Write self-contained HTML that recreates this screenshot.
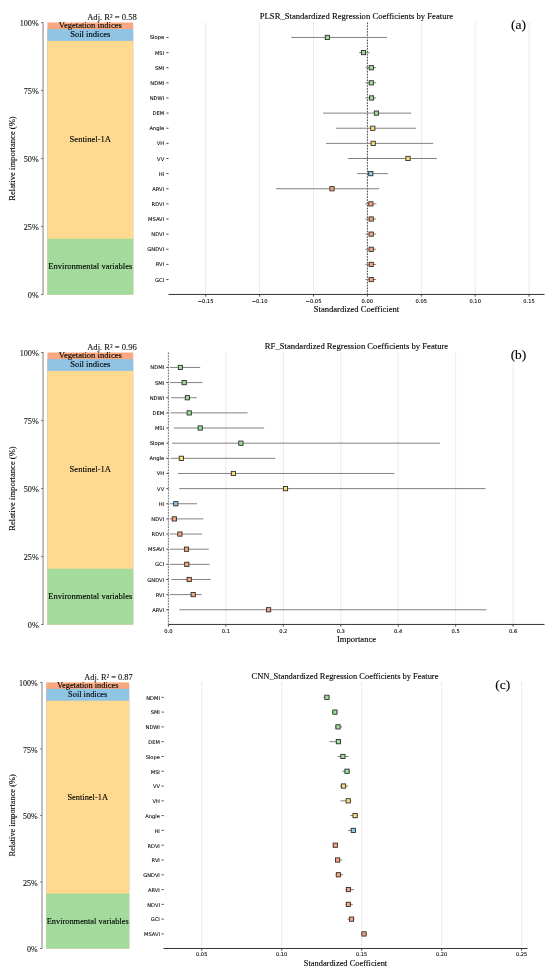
<!DOCTYPE html>
<html><head><meta charset="utf-8"><title>Figure</title>
<style>html,body{margin:0;padding:0;background:#fff}svg{display:block}text{white-space:pre}</style>
</head><body>
<svg width="550" height="972" viewBox="0 0 550 972">
<rect width="550" height="972" fill="#ffffff"/>
<rect x="47.4" y="22.5" width="85.80" height="272.00" fill="#F8A77E"/>
<rect x="47.4" y="29.1" width="85.80" height="265.40" fill="#8FC4E4"/>
<rect x="47.4" y="40.9" width="85.80" height="253.60" fill="#FED98F"/>
<rect x="47.4" y="238.8" width="85.80" height="55.70" fill="#A3DB9D"/>
<path d="M43.05 22.0V295.0" stroke="#8a8a8a" stroke-width="1.1" fill="none"/>
<path d="M41.15 22.50H43.05" stroke="#555" stroke-width="0.8"/>
<text x="38.75" y="26.14" font-family='"Liberation Serif", serif' font-size="8.2" text-anchor="end" fill="#111" stroke="#111" stroke-width="0.1">100%</text>
<path d="M41.15 90.50H43.05" stroke="#555" stroke-width="0.8"/>
<text x="38.75" y="94.14" font-family='"Liberation Serif", serif' font-size="8.2" text-anchor="end" fill="#111" stroke="#111" stroke-width="0.1">75%</text>
<path d="M41.15 158.50H43.05" stroke="#555" stroke-width="0.8"/>
<text x="38.75" y="162.14" font-family='"Liberation Serif", serif' font-size="8.2" text-anchor="end" fill="#111" stroke="#111" stroke-width="0.1">50%</text>
<path d="M41.15 226.50H43.05" stroke="#555" stroke-width="0.8"/>
<text x="38.75" y="230.14" font-family='"Liberation Serif", serif' font-size="8.2" text-anchor="end" fill="#111" stroke="#111" stroke-width="0.1">25%</text>
<path d="M41.15 294.50H43.05" stroke="#555" stroke-width="0.8"/>
<text x="38.75" y="298.14" font-family='"Liberation Serif", serif' font-size="8.2" text-anchor="end" fill="#111" stroke="#111" stroke-width="0.1">0%</text>
<text transform="translate(14.8 158.50) rotate(-90)" font-family='"Liberation Serif", serif' font-size="8.6" text-anchor="middle" fill="#000" stroke="#000" stroke-width="0.12">Relative importance (%)</text>
<text x="112.0" y="19.8" font-family='"Liberation Serif", serif' font-size="8.6" text-anchor="middle" fill="#111" stroke="#111" stroke-width="0.1">Adj. R² = 0.58</text>
<text x="90.30" y="28.38" font-family='"Liberation Serif", serif' font-size="8.6" text-anchor="middle" fill="#000" stroke="#000" stroke-width="0.12">Vegetation indices</text>
<text x="90.30" y="36.98" font-family='"Liberation Serif", serif' font-size="8.6" text-anchor="middle" fill="#000" stroke="#000" stroke-width="0.12">Soil indices</text>
<text x="90.30" y="142.43" font-family='"Liberation Serif", serif' font-size="8.6" text-anchor="middle" fill="#000" stroke="#000" stroke-width="0.12">Sentinel-1A</text>
<text x="90.30" y="269.23" font-family='"Liberation Serif", serif' font-size="8.6" text-anchor="middle" fill="#000" stroke="#000" stroke-width="0.12">Environmental variables</text>
<text x="356.5" y="19.0" font-family='"Liberation Serif", serif' font-size="8.65" text-anchor="middle" fill="#000" stroke="#000" stroke-width="0.12">PLSR_Standardized Regression Coefficients by Feature</text>
<path d="M205.70 22.5V294.45" stroke="#cecece" stroke-width="0.8" stroke-dasharray="1 1" fill="none"/>
<path d="M205.70 294.45v2.2" stroke="#222" stroke-width="0.8"/>
<text x="205.70" y="302.57" font-family='"DejaVu Sans", sans-serif' font-size="5.2" text-anchor="middle" fill="#000" stroke="#000" stroke-width="0.08">−0.15</text>
<path d="M259.60 22.5V294.45" stroke="#cecece" stroke-width="0.8" stroke-dasharray="1 1" fill="none"/>
<path d="M259.60 294.45v2.2" stroke="#222" stroke-width="0.8"/>
<text x="259.60" y="302.57" font-family='"DejaVu Sans", sans-serif' font-size="5.2" text-anchor="middle" fill="#000" stroke="#000" stroke-width="0.08">−0.10</text>
<path d="M313.50 22.5V294.45" stroke="#cecece" stroke-width="0.8" stroke-dasharray="1 1" fill="none"/>
<path d="M313.50 294.45v2.2" stroke="#222" stroke-width="0.8"/>
<text x="313.50" y="302.57" font-family='"DejaVu Sans", sans-serif' font-size="5.2" text-anchor="middle" fill="#000" stroke="#000" stroke-width="0.08">−0.05</text>
<path d="M367.40 22.5V294.45" stroke="#cecece" stroke-width="0.8" stroke-dasharray="1 1" fill="none"/>
<path d="M367.40 294.45v2.2" stroke="#222" stroke-width="0.8"/>
<text x="367.40" y="302.57" font-family='"DejaVu Sans", sans-serif' font-size="5.2" text-anchor="middle" fill="#000" stroke="#000" stroke-width="0.08">0.00</text>
<path d="M421.30 22.5V294.45" stroke="#cecece" stroke-width="0.8" stroke-dasharray="1 1" fill="none"/>
<path d="M421.30 294.45v2.2" stroke="#222" stroke-width="0.8"/>
<text x="421.30" y="302.57" font-family='"DejaVu Sans", sans-serif' font-size="5.2" text-anchor="middle" fill="#000" stroke="#000" stroke-width="0.08">0.05</text>
<path d="M475.20 22.5V294.45" stroke="#cecece" stroke-width="0.8" stroke-dasharray="1 1" fill="none"/>
<path d="M475.20 294.45v2.2" stroke="#222" stroke-width="0.8"/>
<text x="475.20" y="302.57" font-family='"DejaVu Sans", sans-serif' font-size="5.2" text-anchor="middle" fill="#000" stroke="#000" stroke-width="0.08">0.10</text>
<path d="M529.10 22.5V294.45" stroke="#cecece" stroke-width="0.8" stroke-dasharray="1 1" fill="none"/>
<path d="M529.10 294.45v2.2" stroke="#222" stroke-width="0.8"/>
<text x="529.10" y="302.57" font-family='"DejaVu Sans", sans-serif' font-size="5.2" text-anchor="middle" fill="#000" stroke="#000" stroke-width="0.08">0.15</text>
<path d="M367.40 22.5V294.45" stroke="#2a2a2a" stroke-width="0.85" stroke-dasharray="1.65 1.2" fill="none"/>
<path d="M291.30 37.45H387.00" stroke="#828282" stroke-width="1" fill="none"/>
<path d="M359.10 52.58H369.50" stroke="#828282" stroke-width="1" fill="none"/>
<path d="M365.40 67.71H376.00" stroke="#828282" stroke-width="1" fill="none"/>
<path d="M365.40 82.84H376.00" stroke="#828282" stroke-width="1" fill="none"/>
<path d="M365.40 97.97H376.00" stroke="#828282" stroke-width="1" fill="none"/>
<path d="M323.20 113.10H411.20" stroke="#828282" stroke-width="1" fill="none"/>
<path d="M336.00 128.23H416.00" stroke="#828282" stroke-width="1" fill="none"/>
<path d="M326.00 143.36H433.20" stroke="#828282" stroke-width="1" fill="none"/>
<path d="M348.00 158.49H436.80" stroke="#828282" stroke-width="1" fill="none"/>
<path d="M357.20 173.62H388.00" stroke="#828282" stroke-width="1" fill="none"/>
<path d="M276.00 188.75H379.20" stroke="#828282" stroke-width="1" fill="none"/>
<path d="M365.30 203.88H376.40" stroke="#828282" stroke-width="1" fill="none"/>
<path d="M365.40 219.01H376.20" stroke="#828282" stroke-width="1" fill="none"/>
<path d="M365.40 234.14H376.20" stroke="#828282" stroke-width="1" fill="none"/>
<path d="M365.40 249.27H376.20" stroke="#828282" stroke-width="1" fill="none"/>
<path d="M365.40 264.40H376.20" stroke="#828282" stroke-width="1" fill="none"/>
<path d="M365.40 279.53H376.20" stroke="#828282" stroke-width="1" fill="none"/>
<rect x="325.27" y="35.33" width="4.25" height="4.25" fill="#99E095" stroke="#262626" stroke-width="0.85"/>
<path d="M166.3 37.45H168.5" stroke="#222" stroke-width="0.8"/>
<text x="164.2" y="39.47" font-family='"DejaVu Sans", sans-serif' font-size="5.2" text-anchor="end" fill="#000" stroke="#000" stroke-width="0.08">Slope</text>
<rect x="361.38" y="50.46" width="4.25" height="4.25" fill="#99E095" stroke="#262626" stroke-width="0.85"/>
<path d="M166.3 52.58H168.5" stroke="#222" stroke-width="0.8"/>
<text x="164.2" y="54.60" font-family='"DejaVu Sans", sans-serif' font-size="5.2" text-anchor="end" fill="#000" stroke="#000" stroke-width="0.08">MSI</text>
<rect x="369.18" y="65.59" width="4.25" height="4.25" fill="#99E095" stroke="#262626" stroke-width="0.85"/>
<path d="M166.3 67.71H168.5" stroke="#222" stroke-width="0.8"/>
<text x="164.2" y="69.73" font-family='"DejaVu Sans", sans-serif' font-size="5.2" text-anchor="end" fill="#000" stroke="#000" stroke-width="0.08">SMI</text>
<rect x="369.18" y="80.72" width="4.25" height="4.25" fill="#99E095" stroke="#262626" stroke-width="0.85"/>
<path d="M166.3 82.84H168.5" stroke="#222" stroke-width="0.8"/>
<text x="164.2" y="84.86" font-family='"DejaVu Sans", sans-serif' font-size="5.2" text-anchor="end" fill="#000" stroke="#000" stroke-width="0.08">NDMI</text>
<rect x="369.38" y="95.84" width="4.25" height="4.25" fill="#99E095" stroke="#262626" stroke-width="0.85"/>
<path d="M166.3 97.97H168.5" stroke="#222" stroke-width="0.8"/>
<text x="164.2" y="99.99" font-family='"DejaVu Sans", sans-serif' font-size="5.2" text-anchor="end" fill="#000" stroke="#000" stroke-width="0.08">NDWI</text>
<rect x="374.27" y="110.98" width="4.25" height="4.25" fill="#99E095" stroke="#262626" stroke-width="0.85"/>
<path d="M166.3 113.10H168.5" stroke="#222" stroke-width="0.8"/>
<text x="164.2" y="115.12" font-family='"DejaVu Sans", sans-serif' font-size="5.2" text-anchor="end" fill="#000" stroke="#000" stroke-width="0.08">DEM</text>
<rect x="370.68" y="126.11" width="4.25" height="4.25" fill="#FBDD7A" stroke="#262626" stroke-width="0.85"/>
<path d="M166.3 128.23H168.5" stroke="#222" stroke-width="0.8"/>
<text x="164.2" y="130.25" font-family='"DejaVu Sans", sans-serif' font-size="5.2" text-anchor="end" fill="#000" stroke="#000" stroke-width="0.08">Angle</text>
<rect x="371.07" y="141.24" width="4.25" height="4.25" fill="#FBDD7A" stroke="#262626" stroke-width="0.85"/>
<path d="M166.3 143.36H168.5" stroke="#222" stroke-width="0.8"/>
<text x="164.2" y="145.38" font-family='"DejaVu Sans", sans-serif' font-size="5.2" text-anchor="end" fill="#000" stroke="#000" stroke-width="0.08">VH</text>
<rect x="405.88" y="156.37" width="4.25" height="4.25" fill="#FBDD7A" stroke="#262626" stroke-width="0.85"/>
<path d="M166.3 158.49H168.5" stroke="#222" stroke-width="0.8"/>
<text x="164.2" y="160.51" font-family='"DejaVu Sans", sans-serif' font-size="5.2" text-anchor="end" fill="#000" stroke="#000" stroke-width="0.08">VV</text>
<rect x="368.68" y="171.50" width="4.25" height="4.25" fill="#8CC8EC" stroke="#262626" stroke-width="0.85"/>
<path d="M166.3 173.62H168.5" stroke="#222" stroke-width="0.8"/>
<text x="164.2" y="175.64" font-family='"DejaVu Sans", sans-serif' font-size="5.2" text-anchor="end" fill="#000" stroke="#000" stroke-width="0.08">HI</text>
<rect x="329.88" y="186.62" width="4.25" height="4.25" fill="#FAA27E" stroke="#262626" stroke-width="0.85"/>
<path d="M166.3 188.75H168.5" stroke="#222" stroke-width="0.8"/>
<text x="164.2" y="190.77" font-family='"DejaVu Sans", sans-serif' font-size="5.2" text-anchor="end" fill="#000" stroke="#000" stroke-width="0.08">ARVI</text>
<rect x="368.77" y="201.75" width="4.25" height="4.25" fill="#FAA27E" stroke="#262626" stroke-width="0.85"/>
<path d="M166.3 203.88H168.5" stroke="#222" stroke-width="0.8"/>
<text x="164.2" y="205.90" font-family='"DejaVu Sans", sans-serif' font-size="5.2" text-anchor="end" fill="#000" stroke="#000" stroke-width="0.08">RDVI</text>
<rect x="369.07" y="216.88" width="4.25" height="4.25" fill="#FAA27E" stroke="#262626" stroke-width="0.85"/>
<path d="M166.3 219.01H168.5" stroke="#222" stroke-width="0.8"/>
<text x="164.2" y="221.03" font-family='"DejaVu Sans", sans-serif' font-size="5.2" text-anchor="end" fill="#000" stroke="#000" stroke-width="0.08">MSAVI</text>
<rect x="369.07" y="232.01" width="4.25" height="4.25" fill="#FAA27E" stroke="#262626" stroke-width="0.85"/>
<path d="M166.3 234.14H168.5" stroke="#222" stroke-width="0.8"/>
<text x="164.2" y="236.16" font-family='"DejaVu Sans", sans-serif' font-size="5.2" text-anchor="end" fill="#000" stroke="#000" stroke-width="0.08">NDVI</text>
<rect x="369.07" y="247.15" width="4.25" height="4.25" fill="#FAA27E" stroke="#262626" stroke-width="0.85"/>
<path d="M166.3 249.27H168.5" stroke="#222" stroke-width="0.8"/>
<text x="164.2" y="251.29" font-family='"DejaVu Sans", sans-serif' font-size="5.2" text-anchor="end" fill="#000" stroke="#000" stroke-width="0.08">GNDVI</text>
<rect x="369.07" y="262.28" width="4.25" height="4.25" fill="#FAA27E" stroke="#262626" stroke-width="0.85"/>
<path d="M166.3 264.40H168.5" stroke="#222" stroke-width="0.8"/>
<text x="164.2" y="266.42" font-family='"DejaVu Sans", sans-serif' font-size="5.2" text-anchor="end" fill="#000" stroke="#000" stroke-width="0.08">RVI</text>
<rect x="369.07" y="277.41" width="4.25" height="4.25" fill="#FAA27E" stroke="#262626" stroke-width="0.85"/>
<path d="M166.3 279.53H168.5" stroke="#222" stroke-width="0.8"/>
<text x="164.2" y="281.55" font-family='"DejaVu Sans", sans-serif' font-size="5.2" text-anchor="end" fill="#000" stroke="#000" stroke-width="0.08">GCI</text>
<path d="M168.5 294.45H544.5" stroke="#333" stroke-width="1" fill="none"/>
<text x="356.5" y="312.2" font-family='"Liberation Serif", serif' font-size="8.6" text-anchor="middle" fill="#000" stroke="#000" stroke-width="0.12">Standardized Coefficient</text>
<text x="518.5" y="28.8" font-family='"Liberation Serif", serif' font-size="13.5" text-anchor="middle" fill="#000" stroke="#000" stroke-width="0.12">(a)</text>
<rect x="47.4" y="352.5" width="85.80" height="272.00" fill="#F8A77E"/>
<rect x="47.4" y="359.1" width="85.80" height="265.40" fill="#8FC4E4"/>
<rect x="47.4" y="370.9" width="85.80" height="253.60" fill="#FED98F"/>
<rect x="47.4" y="568.8" width="85.80" height="55.70" fill="#A3DB9D"/>
<path d="M43.05 352.0V625.0" stroke="#8a8a8a" stroke-width="1.1" fill="none"/>
<path d="M41.15 352.50H43.05" stroke="#555" stroke-width="0.8"/>
<text x="38.75" y="356.14" font-family='"Liberation Serif", serif' font-size="8.2" text-anchor="end" fill="#111" stroke="#111" stroke-width="0.1">100%</text>
<path d="M41.15 420.50H43.05" stroke="#555" stroke-width="0.8"/>
<text x="38.75" y="424.14" font-family='"Liberation Serif", serif' font-size="8.2" text-anchor="end" fill="#111" stroke="#111" stroke-width="0.1">75%</text>
<path d="M41.15 488.50H43.05" stroke="#555" stroke-width="0.8"/>
<text x="38.75" y="492.14" font-family='"Liberation Serif", serif' font-size="8.2" text-anchor="end" fill="#111" stroke="#111" stroke-width="0.1">50%</text>
<path d="M41.15 556.50H43.05" stroke="#555" stroke-width="0.8"/>
<text x="38.75" y="560.14" font-family='"Liberation Serif", serif' font-size="8.2" text-anchor="end" fill="#111" stroke="#111" stroke-width="0.1">25%</text>
<path d="M41.15 624.50H43.05" stroke="#555" stroke-width="0.8"/>
<text x="38.75" y="628.14" font-family='"Liberation Serif", serif' font-size="8.2" text-anchor="end" fill="#111" stroke="#111" stroke-width="0.1">0%</text>
<text transform="translate(14.8 488.50) rotate(-90)" font-family='"Liberation Serif", serif' font-size="8.6" text-anchor="middle" fill="#000" stroke="#000" stroke-width="0.12">Relative importance (%)</text>
<text x="112.0" y="349.8" font-family='"Liberation Serif", serif' font-size="8.6" text-anchor="middle" fill="#111" stroke="#111" stroke-width="0.1">Adj. R² = 0.96</text>
<text x="90.30" y="358.38" font-family='"Liberation Serif", serif' font-size="8.6" text-anchor="middle" fill="#000" stroke="#000" stroke-width="0.12">Vegetation indices</text>
<text x="90.30" y="366.98" font-family='"Liberation Serif", serif' font-size="8.6" text-anchor="middle" fill="#000" stroke="#000" stroke-width="0.12">Soil indices</text>
<text x="90.30" y="472.43" font-family='"Liberation Serif", serif' font-size="8.6" text-anchor="middle" fill="#000" stroke="#000" stroke-width="0.12">Sentinel-1A</text>
<text x="90.30" y="599.23" font-family='"Liberation Serif", serif' font-size="8.6" text-anchor="middle" fill="#000" stroke="#000" stroke-width="0.12">Environmental variables</text>
<text x="356.5" y="349.0" font-family='"Liberation Serif", serif' font-size="8.65" text-anchor="middle" fill="#000" stroke="#000" stroke-width="0.12">RF_Standardized Regression Coefficients by Feature</text>
<path d="M168.40 352.5V624.45" stroke="#cecece" stroke-width="0.8" stroke-dasharray="1 1" fill="none"/>
<path d="M168.40 624.45v2.2" stroke="#222" stroke-width="0.8"/>
<text x="168.40" y="632.57" font-family='"DejaVu Sans", sans-serif' font-size="5.2" text-anchor="middle" fill="#000" stroke="#000" stroke-width="0.08">0.0</text>
<path d="M225.85 352.5V624.45" stroke="#cecece" stroke-width="0.8" stroke-dasharray="1 1" fill="none"/>
<path d="M225.85 624.45v2.2" stroke="#222" stroke-width="0.8"/>
<text x="225.85" y="632.57" font-family='"DejaVu Sans", sans-serif' font-size="5.2" text-anchor="middle" fill="#000" stroke="#000" stroke-width="0.08">0.1</text>
<path d="M283.30 352.5V624.45" stroke="#cecece" stroke-width="0.8" stroke-dasharray="1 1" fill="none"/>
<path d="M283.30 624.45v2.2" stroke="#222" stroke-width="0.8"/>
<text x="283.30" y="632.57" font-family='"DejaVu Sans", sans-serif' font-size="5.2" text-anchor="middle" fill="#000" stroke="#000" stroke-width="0.08">0.2</text>
<path d="M340.75 352.5V624.45" stroke="#cecece" stroke-width="0.8" stroke-dasharray="1 1" fill="none"/>
<path d="M340.75 624.45v2.2" stroke="#222" stroke-width="0.8"/>
<text x="340.75" y="632.57" font-family='"DejaVu Sans", sans-serif' font-size="5.2" text-anchor="middle" fill="#000" stroke="#000" stroke-width="0.08">0.3</text>
<path d="M398.20 352.5V624.45" stroke="#cecece" stroke-width="0.8" stroke-dasharray="1 1" fill="none"/>
<path d="M398.20 624.45v2.2" stroke="#222" stroke-width="0.8"/>
<text x="398.20" y="632.57" font-family='"DejaVu Sans", sans-serif' font-size="5.2" text-anchor="middle" fill="#000" stroke="#000" stroke-width="0.08">0.4</text>
<path d="M455.65 352.5V624.45" stroke="#cecece" stroke-width="0.8" stroke-dasharray="1 1" fill="none"/>
<path d="M455.65 624.45v2.2" stroke="#222" stroke-width="0.8"/>
<text x="455.65" y="632.57" font-family='"DejaVu Sans", sans-serif' font-size="5.2" text-anchor="middle" fill="#000" stroke="#000" stroke-width="0.08">0.5</text>
<path d="M513.10 352.5V624.45" stroke="#cecece" stroke-width="0.8" stroke-dasharray="1 1" fill="none"/>
<path d="M513.10 624.45v2.2" stroke="#222" stroke-width="0.8"/>
<text x="513.10" y="632.57" font-family='"DejaVu Sans", sans-serif' font-size="5.2" text-anchor="middle" fill="#000" stroke="#000" stroke-width="0.08">0.6</text>
<path d="M168.40 352.5V624.45" stroke="#4a4a4a" stroke-width="0.75" stroke-dasharray="1.65 1.2" fill="none"/>
<path d="M170.00 367.45H200.20" stroke="#828282" stroke-width="1" fill="none"/>
<path d="M170.00 382.59H202.50" stroke="#828282" stroke-width="1" fill="none"/>
<path d="M171.10 397.74H196.70" stroke="#828282" stroke-width="1" fill="none"/>
<path d="M170.50 412.88H247.60" stroke="#828282" stroke-width="1" fill="none"/>
<path d="M174.00 428.03H264.20" stroke="#828282" stroke-width="1" fill="none"/>
<path d="M172.00 443.17H440.00" stroke="#828282" stroke-width="1" fill="none"/>
<path d="M170.50 458.32H275.30" stroke="#828282" stroke-width="1" fill="none"/>
<path d="M177.80 473.46H394.50" stroke="#828282" stroke-width="1" fill="none"/>
<path d="M179.30 488.61H485.50" stroke="#828282" stroke-width="1" fill="none"/>
<path d="M169.80 503.75H197.00" stroke="#828282" stroke-width="1" fill="none"/>
<path d="M169.60 518.90H203.40" stroke="#828282" stroke-width="1" fill="none"/>
<path d="M170.00 534.04H202.00" stroke="#828282" stroke-width="1" fill="none"/>
<path d="M170.00 549.19H208.70" stroke="#828282" stroke-width="1" fill="none"/>
<path d="M170.00 564.34H209.50" stroke="#828282" stroke-width="1" fill="none"/>
<path d="M171.40 579.48H210.70" stroke="#828282" stroke-width="1" fill="none"/>
<path d="M170.00 594.62H201.70" stroke="#828282" stroke-width="1" fill="none"/>
<path d="M179.30 609.77H486.50" stroke="#828282" stroke-width="1" fill="none"/>
<rect x="178.28" y="365.32" width="4.25" height="4.25" fill="#99E095" stroke="#262626" stroke-width="0.85"/>
<path d="M166.3 367.45H168.5" stroke="#222" stroke-width="0.8"/>
<text x="164.2" y="369.47" font-family='"DejaVu Sans", sans-serif' font-size="5.2" text-anchor="end" fill="#000" stroke="#000" stroke-width="0.08">NDMI</text>
<rect x="182.07" y="380.47" width="4.25" height="4.25" fill="#99E095" stroke="#262626" stroke-width="0.85"/>
<path d="M166.3 382.59H168.5" stroke="#222" stroke-width="0.8"/>
<text x="164.2" y="384.62" font-family='"DejaVu Sans", sans-serif' font-size="5.2" text-anchor="end" fill="#000" stroke="#000" stroke-width="0.08">SMI</text>
<rect x="185.28" y="395.62" width="4.25" height="4.25" fill="#99E095" stroke="#262626" stroke-width="0.85"/>
<path d="M166.3 397.74H168.5" stroke="#222" stroke-width="0.8"/>
<text x="164.2" y="399.76" font-family='"DejaVu Sans", sans-serif' font-size="5.2" text-anchor="end" fill="#000" stroke="#000" stroke-width="0.08">NDWI</text>
<rect x="187.07" y="410.76" width="4.25" height="4.25" fill="#99E095" stroke="#262626" stroke-width="0.85"/>
<path d="M166.3 412.88H168.5" stroke="#222" stroke-width="0.8"/>
<text x="164.2" y="414.91" font-family='"DejaVu Sans", sans-serif' font-size="5.2" text-anchor="end" fill="#000" stroke="#000" stroke-width="0.08">DEM</text>
<rect x="198.07" y="425.90" width="4.25" height="4.25" fill="#99E095" stroke="#262626" stroke-width="0.85"/>
<path d="M166.3 428.03H168.5" stroke="#222" stroke-width="0.8"/>
<text x="164.2" y="430.05" font-family='"DejaVu Sans", sans-serif' font-size="5.2" text-anchor="end" fill="#000" stroke="#000" stroke-width="0.08">MSI</text>
<rect x="238.78" y="441.05" width="4.25" height="4.25" fill="#99E095" stroke="#262626" stroke-width="0.85"/>
<path d="M166.3 443.17H168.5" stroke="#222" stroke-width="0.8"/>
<text x="164.2" y="445.20" font-family='"DejaVu Sans", sans-serif' font-size="5.2" text-anchor="end" fill="#000" stroke="#000" stroke-width="0.08">Slope</text>
<rect x="179.18" y="456.19" width="4.25" height="4.25" fill="#FBDD7A" stroke="#262626" stroke-width="0.85"/>
<path d="M166.3 458.32H168.5" stroke="#222" stroke-width="0.8"/>
<text x="164.2" y="460.34" font-family='"DejaVu Sans", sans-serif' font-size="5.2" text-anchor="end" fill="#000" stroke="#000" stroke-width="0.08">Angle</text>
<rect x="231.28" y="471.34" width="4.25" height="4.25" fill="#FBDD7A" stroke="#262626" stroke-width="0.85"/>
<path d="M166.3 473.46H168.5" stroke="#222" stroke-width="0.8"/>
<text x="164.2" y="475.49" font-family='"DejaVu Sans", sans-serif' font-size="5.2" text-anchor="end" fill="#000" stroke="#000" stroke-width="0.08">VH</text>
<rect x="283.38" y="486.49" width="4.25" height="4.25" fill="#FBDD7A" stroke="#262626" stroke-width="0.85"/>
<path d="M166.3 488.61H168.5" stroke="#222" stroke-width="0.8"/>
<text x="164.2" y="490.63" font-family='"DejaVu Sans", sans-serif' font-size="5.2" text-anchor="end" fill="#000" stroke="#000" stroke-width="0.08">VV</text>
<rect x="173.68" y="501.63" width="4.25" height="4.25" fill="#8CC8EC" stroke="#262626" stroke-width="0.85"/>
<path d="M166.3 503.75H168.5" stroke="#222" stroke-width="0.8"/>
<text x="164.2" y="505.78" font-family='"DejaVu Sans", sans-serif' font-size="5.2" text-anchor="end" fill="#000" stroke="#000" stroke-width="0.08">HI</text>
<rect x="172.18" y="516.77" width="4.25" height="4.25" fill="#FAA27E" stroke="#262626" stroke-width="0.85"/>
<path d="M166.3 518.90H168.5" stroke="#222" stroke-width="0.8"/>
<text x="164.2" y="520.92" font-family='"DejaVu Sans", sans-serif' font-size="5.2" text-anchor="end" fill="#000" stroke="#000" stroke-width="0.08">NDVI</text>
<rect x="177.78" y="531.92" width="4.25" height="4.25" fill="#FAA27E" stroke="#262626" stroke-width="0.85"/>
<path d="M166.3 534.04H168.5" stroke="#222" stroke-width="0.8"/>
<text x="164.2" y="536.07" font-family='"DejaVu Sans", sans-serif' font-size="5.2" text-anchor="end" fill="#000" stroke="#000" stroke-width="0.08">RDVI</text>
<rect x="184.38" y="547.07" width="4.25" height="4.25" fill="#FAA27E" stroke="#262626" stroke-width="0.85"/>
<path d="M166.3 549.19H168.5" stroke="#222" stroke-width="0.8"/>
<text x="164.2" y="551.21" font-family='"DejaVu Sans", sans-serif' font-size="5.2" text-anchor="end" fill="#000" stroke="#000" stroke-width="0.08">MSAVI</text>
<rect x="184.68" y="562.21" width="4.25" height="4.25" fill="#FAA27E" stroke="#262626" stroke-width="0.85"/>
<path d="M166.3 564.34H168.5" stroke="#222" stroke-width="0.8"/>
<text x="164.2" y="566.36" font-family='"DejaVu Sans", sans-serif' font-size="5.2" text-anchor="end" fill="#000" stroke="#000" stroke-width="0.08">GCI</text>
<rect x="187.07" y="577.36" width="4.25" height="4.25" fill="#FAA27E" stroke="#262626" stroke-width="0.85"/>
<path d="M166.3 579.48H168.5" stroke="#222" stroke-width="0.8"/>
<text x="164.2" y="581.50" font-family='"DejaVu Sans", sans-serif' font-size="5.2" text-anchor="end" fill="#000" stroke="#000" stroke-width="0.08">GNDVI</text>
<rect x="191.07" y="592.50" width="4.25" height="4.25" fill="#FAA27E" stroke="#262626" stroke-width="0.85"/>
<path d="M166.3 594.62H168.5" stroke="#222" stroke-width="0.8"/>
<text x="164.2" y="596.65" font-family='"DejaVu Sans", sans-serif' font-size="5.2" text-anchor="end" fill="#000" stroke="#000" stroke-width="0.08">RVI</text>
<rect x="266.48" y="607.64" width="4.25" height="4.25" fill="#FAA27E" stroke="#262626" stroke-width="0.85"/>
<path d="M166.3 609.77H168.5" stroke="#222" stroke-width="0.8"/>
<text x="164.2" y="611.79" font-family='"DejaVu Sans", sans-serif' font-size="5.2" text-anchor="end" fill="#000" stroke="#000" stroke-width="0.08">ARVI</text>
<path d="M168.5 624.45H544.5" stroke="#333" stroke-width="1" fill="none"/>
<text x="356.5" y="642.0" font-family='"Liberation Serif", serif' font-size="8.6" text-anchor="middle" fill="#000" stroke="#000" stroke-width="0.12">Importance</text>
<text x="518.5" y="358.8" font-family='"Liberation Serif", serif' font-size="13.5" text-anchor="middle" fill="#000" stroke="#000" stroke-width="0.12">(b)</text>
<rect x="46.2" y="682.4" width="83.00" height="266.10" fill="#F8A77E"/>
<rect x="46.2" y="688.8" width="83.00" height="259.70" fill="#8FC4E4"/>
<rect x="46.2" y="700.7" width="83.00" height="247.80" fill="#FED98F"/>
<rect x="46.2" y="893.6" width="83.00" height="54.90" fill="#A3DB9D"/>
<path d="M42.0 681.9V949.0" stroke="#8a8a8a" stroke-width="1.1" fill="none"/>
<path d="M40.1 682.40H42.0" stroke="#555" stroke-width="0.8"/>
<text x="37.70" y="685.97" font-family='"Liberation Serif", serif' font-size="8.0" text-anchor="end" fill="#111" stroke="#111" stroke-width="0.1">100%</text>
<path d="M40.1 748.92H42.0" stroke="#555" stroke-width="0.8"/>
<text x="37.70" y="752.50" font-family='"Liberation Serif", serif' font-size="8.0" text-anchor="end" fill="#111" stroke="#111" stroke-width="0.1">75%</text>
<path d="M40.1 815.45H42.0" stroke="#555" stroke-width="0.8"/>
<text x="37.70" y="819.02" font-family='"Liberation Serif", serif' font-size="8.0" text-anchor="end" fill="#111" stroke="#111" stroke-width="0.1">50%</text>
<path d="M40.1 881.98H42.0" stroke="#555" stroke-width="0.8"/>
<text x="37.70" y="885.55" font-family='"Liberation Serif", serif' font-size="8.0" text-anchor="end" fill="#111" stroke="#111" stroke-width="0.1">25%</text>
<path d="M40.1 948.50H42.0" stroke="#555" stroke-width="0.8"/>
<text x="37.70" y="952.07" font-family='"Liberation Serif", serif' font-size="8.0" text-anchor="end" fill="#111" stroke="#111" stroke-width="0.1">0%</text>
<text transform="translate(14.5 815.45) rotate(-90)" font-family='"Liberation Serif", serif' font-size="8.4" text-anchor="middle" fill="#000" stroke="#000" stroke-width="0.12">Relative importance (%)</text>
<text x="108.5" y="679.8" font-family='"Liberation Serif", serif' font-size="8.4" text-anchor="middle" fill="#111" stroke="#111" stroke-width="0.1">Adj. R² = 0.87</text>
<text x="87.70" y="688.12" font-family='"Liberation Serif", serif' font-size="8.4" text-anchor="middle" fill="#000" stroke="#000" stroke-width="0.12">Vegetation indices</text>
<text x="87.70" y="696.67" font-family='"Liberation Serif", serif' font-size="8.4" text-anchor="middle" fill="#000" stroke="#000" stroke-width="0.12">Soil indices</text>
<text x="87.70" y="799.67" font-family='"Liberation Serif", serif' font-size="8.4" text-anchor="middle" fill="#000" stroke="#000" stroke-width="0.12">Sentinel-1A</text>
<text x="87.70" y="923.57" font-family='"Liberation Serif", serif' font-size="8.4" text-anchor="middle" fill="#000" stroke="#000" stroke-width="0.12">Environmental variables</text>
<text x="345.0" y="679.25" font-family='"Liberation Serif", serif' font-size="8.45" text-anchor="middle" fill="#000" stroke="#000" stroke-width="0.12">CNN_Standardized Regression Coefficients by Feature</text>
<path d="M201.71 682V948.5" stroke="#cecece" stroke-width="0.8" stroke-dasharray="1 1" fill="none"/>
<path d="M201.71 948.5v2.2" stroke="#222" stroke-width="0.8"/>
<text x="201.71" y="956.44" font-family='"DejaVu Sans", sans-serif' font-size="5.12" text-anchor="middle" fill="#000" stroke="#000" stroke-width="0.08">0.05</text>
<path d="M281.68 682V948.5" stroke="#cecece" stroke-width="0.8" stroke-dasharray="1 1" fill="none"/>
<path d="M281.68 948.5v2.2" stroke="#222" stroke-width="0.8"/>
<text x="281.68" y="956.44" font-family='"DejaVu Sans", sans-serif' font-size="5.12" text-anchor="middle" fill="#000" stroke="#000" stroke-width="0.08">0.10</text>
<path d="M361.65 682V948.5" stroke="#cecece" stroke-width="0.8" stroke-dasharray="1 1" fill="none"/>
<path d="M361.65 948.5v2.2" stroke="#222" stroke-width="0.8"/>
<text x="361.65" y="956.44" font-family='"DejaVu Sans", sans-serif' font-size="5.12" text-anchor="middle" fill="#000" stroke="#000" stroke-width="0.08">0.15</text>
<path d="M441.62 682V948.5" stroke="#cecece" stroke-width="0.8" stroke-dasharray="1 1" fill="none"/>
<path d="M441.62 948.5v2.2" stroke="#222" stroke-width="0.8"/>
<text x="441.62" y="956.44" font-family='"DejaVu Sans", sans-serif' font-size="5.12" text-anchor="middle" fill="#000" stroke="#000" stroke-width="0.08">0.20</text>
<path d="M521.59 682V948.5" stroke="#cecece" stroke-width="0.8" stroke-dasharray="1 1" fill="none"/>
<path d="M521.59 948.5v2.2" stroke="#222" stroke-width="0.8"/>
<text x="521.59" y="956.44" font-family='"DejaVu Sans", sans-serif' font-size="5.12" text-anchor="middle" fill="#000" stroke="#000" stroke-width="0.08">0.25</text>
<path d="M323.30 697.30H329.80" stroke="#828282" stroke-width="1" fill="none"/>
<path d="M332.00 712.09H338.00" stroke="#828282" stroke-width="1" fill="none"/>
<path d="M335.00 726.88H342.20" stroke="#828282" stroke-width="1" fill="none"/>
<path d="M329.50 741.67H341.20" stroke="#828282" stroke-width="1" fill="none"/>
<path d="M337.60 756.46H348.50" stroke="#828282" stroke-width="1" fill="none"/>
<path d="M342.20 771.25H350.00" stroke="#828282" stroke-width="1" fill="none"/>
<path d="M340.00 786.04H348.20" stroke="#828282" stroke-width="1" fill="none"/>
<path d="M340.40 800.83H351.30" stroke="#828282" stroke-width="1" fill="none"/>
<path d="M350.20 815.62H358.00" stroke="#828282" stroke-width="1" fill="none"/>
<path d="M348.00 830.41H356.00" stroke="#828282" stroke-width="1" fill="none"/>
<path d="M332.50 845.20H338.00" stroke="#828282" stroke-width="1" fill="none"/>
<path d="M335.00 859.99H342.20" stroke="#828282" stroke-width="1" fill="none"/>
<path d="M335.50 874.78H343.10" stroke="#828282" stroke-width="1" fill="none"/>
<path d="M345.50 889.57H354.00" stroke="#828282" stroke-width="1" fill="none"/>
<path d="M345.50 904.36H352.90" stroke="#828282" stroke-width="1" fill="none"/>
<path d="M347.50 919.15H354.50" stroke="#828282" stroke-width="1" fill="none"/>
<path d="M361.00 933.94H367.00" stroke="#828282" stroke-width="1" fill="none"/>
<rect x="324.77" y="695.17" width="4.25" height="4.25" fill="#99E095" stroke="#262626" stroke-width="0.85"/>
<path d="M161.6 697.30H163.8" stroke="#222" stroke-width="0.8"/>
<text x="159.9" y="699.64" font-family='"DejaVu Sans", sans-serif' font-size="5.12" text-anchor="end" fill="#000" stroke="#000" stroke-width="0.08">NDMI</text>
<rect x="332.77" y="709.96" width="4.25" height="4.25" fill="#99E095" stroke="#262626" stroke-width="0.85"/>
<path d="M161.6 712.09H163.8" stroke="#222" stroke-width="0.8"/>
<text x="159.9" y="714.43" font-family='"DejaVu Sans", sans-serif' font-size="5.12" text-anchor="end" fill="#000" stroke="#000" stroke-width="0.08">SMI</text>
<rect x="335.88" y="724.75" width="4.25" height="4.25" fill="#99E095" stroke="#262626" stroke-width="0.85"/>
<path d="M161.6 726.88H163.8" stroke="#222" stroke-width="0.8"/>
<text x="159.9" y="729.22" font-family='"DejaVu Sans", sans-serif' font-size="5.12" text-anchor="end" fill="#000" stroke="#000" stroke-width="0.08">NDWI</text>
<rect x="336.27" y="739.54" width="4.25" height="4.25" fill="#99E095" stroke="#262626" stroke-width="0.85"/>
<path d="M161.6 741.67H163.8" stroke="#222" stroke-width="0.8"/>
<text x="159.9" y="744.01" font-family='"DejaVu Sans", sans-serif' font-size="5.12" text-anchor="end" fill="#000" stroke="#000" stroke-width="0.08">DEM</text>
<rect x="340.77" y="754.33" width="4.25" height="4.25" fill="#99E095" stroke="#262626" stroke-width="0.85"/>
<path d="M161.6 756.46H163.8" stroke="#222" stroke-width="0.8"/>
<text x="159.9" y="758.80" font-family='"DejaVu Sans", sans-serif' font-size="5.12" text-anchor="end" fill="#000" stroke="#000" stroke-width="0.08">Slope</text>
<rect x="344.88" y="769.12" width="4.25" height="4.25" fill="#99E095" stroke="#262626" stroke-width="0.85"/>
<path d="M161.6 771.25H163.8" stroke="#222" stroke-width="0.8"/>
<text x="159.9" y="773.59" font-family='"DejaVu Sans", sans-serif' font-size="5.12" text-anchor="end" fill="#000" stroke="#000" stroke-width="0.08">MSI</text>
<rect x="341.38" y="783.91" width="4.25" height="4.25" fill="#FBDD7A" stroke="#262626" stroke-width="0.85"/>
<path d="M161.6 786.04H163.8" stroke="#222" stroke-width="0.8"/>
<text x="159.9" y="788.38" font-family='"DejaVu Sans", sans-serif' font-size="5.12" text-anchor="end" fill="#000" stroke="#000" stroke-width="0.08">VV</text>
<rect x="346.07" y="798.70" width="4.25" height="4.25" fill="#FBDD7A" stroke="#262626" stroke-width="0.85"/>
<path d="M161.6 800.83H163.8" stroke="#222" stroke-width="0.8"/>
<text x="159.9" y="803.17" font-family='"DejaVu Sans", sans-serif' font-size="5.12" text-anchor="end" fill="#000" stroke="#000" stroke-width="0.08">VH</text>
<rect x="352.98" y="813.49" width="4.25" height="4.25" fill="#FBDD7A" stroke="#262626" stroke-width="0.85"/>
<path d="M161.6 815.62H163.8" stroke="#222" stroke-width="0.8"/>
<text x="159.9" y="817.96" font-family='"DejaVu Sans", sans-serif' font-size="5.12" text-anchor="end" fill="#000" stroke="#000" stroke-width="0.08">Angle</text>
<rect x="351.18" y="828.28" width="4.25" height="4.25" fill="#8CC8EC" stroke="#262626" stroke-width="0.85"/>
<path d="M161.6 830.41H163.8" stroke="#222" stroke-width="0.8"/>
<text x="159.9" y="832.75" font-family='"DejaVu Sans", sans-serif' font-size="5.12" text-anchor="end" fill="#000" stroke="#000" stroke-width="0.08">HI</text>
<rect x="333.18" y="843.07" width="4.25" height="4.25" fill="#FAA27E" stroke="#262626" stroke-width="0.85"/>
<path d="M161.6 845.20H163.8" stroke="#222" stroke-width="0.8"/>
<text x="159.9" y="847.54" font-family='"DejaVu Sans", sans-serif' font-size="5.12" text-anchor="end" fill="#000" stroke="#000" stroke-width="0.08">RDVI</text>
<rect x="335.48" y="857.87" width="4.25" height="4.25" fill="#FAA27E" stroke="#262626" stroke-width="0.85"/>
<path d="M161.6 859.99H163.8" stroke="#222" stroke-width="0.8"/>
<text x="159.9" y="862.33" font-family='"DejaVu Sans", sans-serif' font-size="5.12" text-anchor="end" fill="#000" stroke="#000" stroke-width="0.08">RVI</text>
<rect x="336.27" y="872.65" width="4.25" height="4.25" fill="#FAA27E" stroke="#262626" stroke-width="0.85"/>
<path d="M161.6 874.78H163.8" stroke="#222" stroke-width="0.8"/>
<text x="159.9" y="877.12" font-family='"DejaVu Sans", sans-serif' font-size="5.12" text-anchor="end" fill="#000" stroke="#000" stroke-width="0.08">GNDVI</text>
<rect x="346.27" y="887.44" width="4.25" height="4.25" fill="#FAA27E" stroke="#262626" stroke-width="0.85"/>
<path d="M161.6 889.57H163.8" stroke="#222" stroke-width="0.8"/>
<text x="159.9" y="891.91" font-family='"DejaVu Sans", sans-serif' font-size="5.12" text-anchor="end" fill="#000" stroke="#000" stroke-width="0.08">ARVI</text>
<rect x="346.27" y="902.23" width="4.25" height="4.25" fill="#FAA27E" stroke="#262626" stroke-width="0.85"/>
<path d="M161.6 904.36H163.8" stroke="#222" stroke-width="0.8"/>
<text x="159.9" y="906.70" font-family='"DejaVu Sans", sans-serif' font-size="5.12" text-anchor="end" fill="#000" stroke="#000" stroke-width="0.08">NDVI</text>
<rect x="349.38" y="917.02" width="4.25" height="4.25" fill="#FAA27E" stroke="#262626" stroke-width="0.85"/>
<path d="M161.6 919.15H163.8" stroke="#222" stroke-width="0.8"/>
<text x="159.9" y="921.49" font-family='"DejaVu Sans", sans-serif' font-size="5.12" text-anchor="end" fill="#000" stroke="#000" stroke-width="0.08">GCI</text>
<rect x="361.88" y="931.81" width="4.25" height="4.25" fill="#FAA27E" stroke="#262626" stroke-width="0.85"/>
<path d="M161.6 933.94H163.8" stroke="#222" stroke-width="0.8"/>
<text x="159.9" y="936.28" font-family='"DejaVu Sans", sans-serif' font-size="5.12" text-anchor="end" fill="#000" stroke="#000" stroke-width="0.08">MSAVI</text>
<path d="M163.5 948.5H527.5" stroke="#333" stroke-width="1" fill="none"/>
<text x="345.5" y="965.7" font-family='"Liberation Serif", serif' font-size="8.4" text-anchor="middle" fill="#000" stroke="#000" stroke-width="0.12">Standardized Coefficient</text>
<text x="502.8" y="688.5" font-family='"Liberation Serif", serif' font-size="13.5" text-anchor="middle" fill="#000" stroke="#000" stroke-width="0.12">(c)</text>
</svg>
</body></html>
